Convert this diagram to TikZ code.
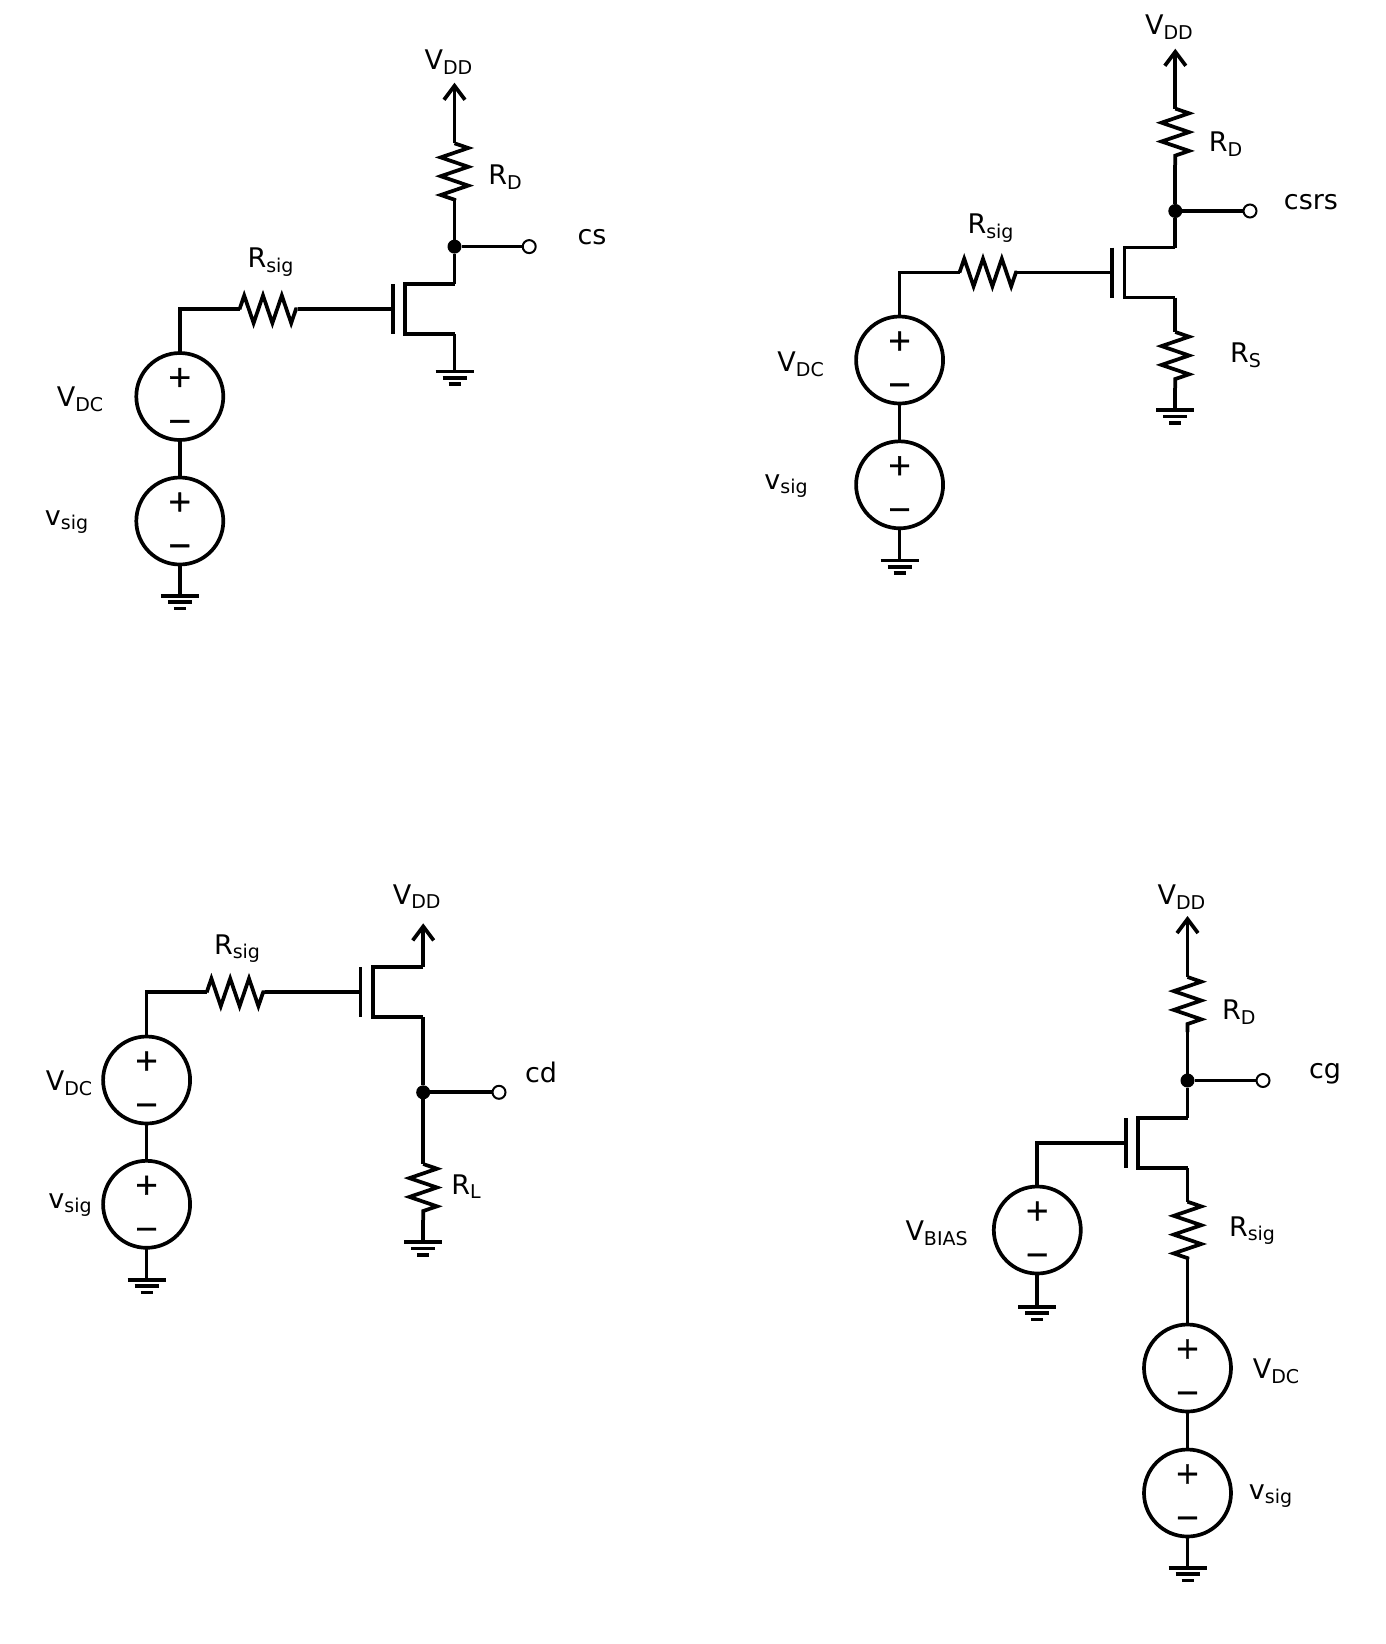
\documentclass[tikz,border=0pt]{standalone}
\usepackage{fontspec}
\setmainfont{DejaVu Sans}
\newfontfamily\signfont[FakeBold=1.2]{DejaVu Sans}
\usetikzlibrary{arrows.meta,decorations.pathmorphing}

\newcommand{\sub}[2]{#1\raisebox{-0.32ex}{\fontsize{9.5}{10}\selectfont #2}}

\tikzset{
    >={Straight Barb[length=7pt,width=10.5pt]},
    wire/.style={line width=1.85pt},
    lab/.style={font=\fontsize{13.5}{16}\selectfont,inner sep=0pt},
    src/.style={draw,circle,line width=1.85pt,minimum size=43.5pt,inner sep=0pt,outer sep=0pt},
    sign/.style={font=\signfont\fontsize{15}{16}\selectfont,inner sep=0pt},
    dot/.style={circle,fill=black,minimum size=7pt,inner sep=0pt,outer sep=0pt},
    term/.style={draw,circle,fill=white,line width=1pt,minimum size=6.5pt,inner sep=0pt,outer sep=0pt},
    zig/.style={line width=1.85pt,decorate,decoration={zigzag,amplitude=6.9pt,segment length=9.4pt}}
}

\begin{document}
\begin{tikzpicture}[x=0.5pt,y=-0.5pt,wire]
\useasboundingbox (0,0) rectangle (1386,1644);

\foreach \n/\x/\y in {dccs/179.8/396.5,sigcs/179.8/521,
    dccsrs/899.6/360,sigcsrs/899.6/484.8,
    dccd/146.6/1080,sigcd/146.6/1204.3,
    biascg/1037.3/1230,dccg/1187.5/1368,sigcg/1187.5/1493} {%
    \node (\n) at (\x,\y) [src] {};
    \node (\n plus) at (\x,\y-19) [sign] {+};
    \node (\n minus) at (\x,\y+29) [sign] {−};
}

\foreach \m/\px/\gy/\dx in {cs/392.7/309.3/454.5,csrs/1112.3/272.5/1175.3,
    cd/360.4/992.3/423.2,cg/1125.7/1143/1187.5} {%
    \coordinate (gate\m) at (\px,\gy);
    \coordinate (drain\m) at (\dx,\gy-25);
    \coordinate (source\m) at (\dx,\gy+25);
    \draw (\px,\gy-25) -- (\px,\gy+25);
    \draw (drain\m) -- (\px+12.3,\gy-25) -- (\px+12.3,\gy+25) -- (source\m);
}

\foreach \r/\ax/\ay/\bx/\by in {rsigcs/239.5/309.3/297.5/309.3,rdcs/454.5/143.3/454.5/200,
    rsigcsrs/959.5/272.5/1017/272.5,rdcsrs/1175.3/108.6/1175.3/164.8,rscsrs/1175.3/332/1175.3/388.2,
    rsigcd/206.7/992.3/265/992.3,rlcd/423.2/1164/423.2/1220,
    rdcg/1187.5/977/1187.5/1032,rsigcg/1187.5/1201.7/1187.5/1259} {%
    \coordinate (\r a) at (\ax,\ay);
    \coordinate (\r b) at (\bx,\by);
    \draw[zig] (\r a) -- (\r b);
}

\foreach \g/\x/\y in {cs/454.5/371.6,sigcs/179.8/595.8,
    csrs/1175.3/410.2,sigcsrs/899.6/560.4,
    cd/423.2/1242.3,sigcd/146.6/1280,
    biascg/1037.3/1307,sigcg/1187.5/1568} {%
    \coordinate (gnd\g) at (\x,\y);
    \draw (\x-19,\y) -- (\x+19,\y);
    \draw (\x-12,\y+6.3) -- (\x+12,\y+6.3);
    \draw (\x-6,\y+12.6) -- (\x+6,\y+12.6);
}

% cs
\coordinate (tipcs) at (454.5,82.7);
\node (ncs) at (454.5,246.6) [dot] {};
\node (tcs) at (529.2,246.6) [term] {};
\draw[->] (rdcsa) -- (tipcs);
\draw (rdcsb) -- (ncs);
\draw (ncs) -- (draincs);
\draw (ncs) -- (tcs);
\draw (sourcecs) -- (gndcs);
\draw (dccs.north) |- (rsigcsa);
\draw (rsigcsb) -- (gatecs);
\draw (dccs.south) -- (sigcs.north);
\draw (sigcs.south) -- (gndsigcs);
\node (lvddcs) at (448.5,62) [lab] {\sub{V}{DD}};
\node (lrdcs) at (505,177.4) [lab] {\sub{R}{D}};
\node (lcs) at (592,237.5) [lab] {cs};
\node (lrsigcs) at (270.5,262) [lab] {\sub{R}{sig}};
\node (ldccs) at (80,399.5) [lab] {\sub{V}{DC}};
\node (lsigcs) at (66.5,522) [lab] {\sub{v}{sig}};

% csrs
\coordinate (tipcsrs) at (1175.3,48.7);
\node (ncsrs) at (1175.3,211) [dot] {};
\node (tcsrs) at (1250,211) [term] {};
\draw[->] (rdcsrsa) -- (tipcsrs);
\draw (rdcsrsb) -- (ncsrs);
\draw (ncsrs) -- (draincsrs);
\draw (ncsrs) -- (tcsrs);
\draw (sourcecsrs) -- (rscsrsa);
\draw (rscsrsb) -- (gndcsrs);
\draw (dccsrs.north) |- (rsigcsrsa);
\draw (rsigcsrsb) -- (gatecsrs);
\draw (dccsrs.south) -- (sigcsrs.north);
\draw (sigcsrs.south) -- (gndsigcsrs);
\node (lvddcsrs) at (1169,27) [lab] {\sub{V}{DD}};
\node (lrdcsrs) at (1225.5,143.8) [lab] {\sub{R}{D}};
\node (lcsrs) at (1311,202) [lab] {csrs};
\node (lrsigcsrs) at (990.5,228) [lab] {\sub{R}{sig}};
\node (lrscsrs) at (1245.5,355) [lab] {\sub{R}{S}};
\node (ldccsrs) at (800.6,364) [lab] {\sub{V}{DC}};
\node (lsigcsrs) at (786,486) [lab] {\sub{v}{sig}};

% cd
\coordinate (tipcd) at (423.2,923.3);
\node (ncd) at (423.2,1092.3) [dot] {};
\node (tcd) at (499,1092.3) [term] {};
\draw[->] (draincd) -- (tipcd);
\draw (sourcecd) -- (ncd);
\draw (ncd) -- (rlcda);
\draw (ncd) -- (tcd);
\draw (rlcdb) -- (gndcd);
\draw (dccd.north) |- (rsigcda);
\draw (rsigcdb) -- (gatecd);
\draw (dccd.south) -- (sigcd.north);
\draw (sigcd.south) -- (gndsigcd);
\node (lvddcd) at (416.7,896.7) [lab] {\sub{V}{DD}};
\node (lrsigcd) at (237,948.5) [lab] {\sub{R}{sig}};
\node (lcd) at (541,1072.7) [lab] {cd};
\node (lrlcd) at (466,1186.7) [lab] {\sub{R}{L}};
\node (ldccd) at (69,1083.5) [lab] {\sub{V}{DC}};
\node (lsigcd) at (70,1205) [lab] {\sub{v}{sig}};

% cg
\coordinate (tipcg) at (1187.5,916);
\node (ncg) at (1187.5,1080.5) [dot] {};
\node (tcg) at (1263,1080.5) [term] {};
\draw[->] (rdcga) -- (tipcg);
\draw (rdcgb) -- (ncg);
\draw (ncg) -- (draincg);
\draw (ncg) -- (tcg);
\draw (sourcecg) -- (rsigcga);
\draw (rsigcgb) -- (dccg.north);
\draw (dccg.south) -- (sigcg.north);
\draw (sigcg.south) -- (gndsigcg);
\draw (biascg.north) |- (gatecg);
\draw (biascg.south) -- (gndbiascg);
\node (lvddcg) at (1181.5,897) [lab] {\sub{V}{DD}};
\node (lrdcg) at (1238.7,1012) [lab] {\sub{R}{D}};
\node (lcg) at (1325,1074) [lab] {cg};
\node (lrsigcg) at (1252,1230.7) [lab] {\sub{R}{sig}};
\node (lbiascg) at (936.6,1233.5) [lab] {\sub{V}{BIAS}};
\node (ldccg) at (1276,1371.6) [lab] {\sub{V}{DC}};
\node (lsigcg) at (1270.5,1496) [lab] {\sub{v}{sig}};
\end{tikzpicture}
\end{document}
